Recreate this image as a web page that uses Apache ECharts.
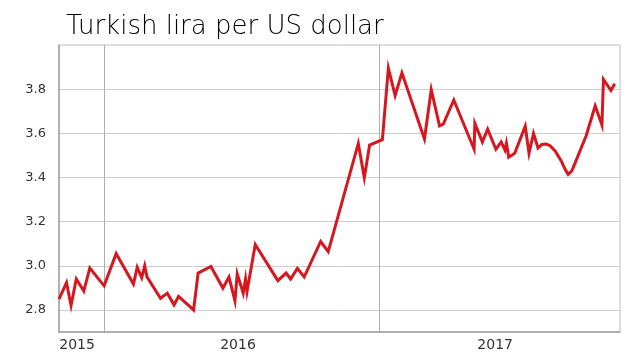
<!DOCTYPE html>
<html>
<head>
<meta charset="utf-8">
<script src="https://cdn.jsdelivr.net/npm/echarts@6/dist/echarts.min.js"></script>
<style>
html,body{margin:0;padding:0;background:#fff;}
#chart{width:634px;height:357px;}
</style>
</head>
<body>
<div id="chart"></div>
<script>
const titleText = 'Turkish lira per US dollar';
const dates = ['2015-11-02','2015-11-12','2015-11-18','2015-11-25','2015-12-05','2015-12-13','2016-01-01','2016-01-17','2016-02-09','2016-02-14','2016-02-20','2016-02-24','2016-02-27','2016-03-16','2016-03-25','2016-04-03','2016-04-09','2016-04-29','2016-05-05','2016-05-22','2016-06-07','2016-06-15','2016-06-23','2016-06-26','2016-07-04','2016-07-07','2016-07-09','2016-07-20','2016-08-19','2016-08-30','2016-09-05','2016-09-14','2016-09-23','2016-10-15','2016-10-25','2016-12-04','2016-12-12','2016-12-19','2017-01-05','2017-01-13','2017-01-22','2017-01-31','2017-03-02','2017-03-11','2017-03-22','2017-03-27','2017-04-10','2017-05-07','2017-05-08','2017-05-18','2017-05-25','2017-06-05','2017-06-12','2017-06-17','2017-06-19','2017-06-22','2017-06-30','2017-07-14','2017-07-19','2017-07-25','2017-07-31','2017-08-05','2017-08-11','2017-08-16','2017-08-23','2017-08-31','2017-09-05','2017-09-09','2017-09-14','2017-10-03','2017-10-15','2017-10-24','2017-10-26','2017-11-05','2017-11-10'];
const lira = [2.849,2.924,2.820,2.940,2.886,2.990,2.909,3.055,2.917,2.993,2.946,3.000,2.950,2.853,2.876,2.823,2.861,2.800,2.967,2.997,2.899,2.949,2.841,2.964,2.876,2.940,2.883,3.096,2.933,2.967,2.940,2.988,2.949,3.110,3.064,3.554,3.399,3.547,3.571,3.895,3.771,3.874,3.574,3.798,3.634,3.642,3.751,3.528,3.645,3.561,3.619,3.528,3.561,3.524,3.556,3.492,3.510,3.632,3.510,3.600,3.533,3.549,3.551,3.544,3.519,3.474,3.437,3.414,3.430,3.589,3.725,3.638,3.844,3.794,3.824];
const yearLabels = ['2015','2016','2017'];
const yearLabelDates = ['2015-11-26','2016-06-27','2017-06-04'];
const yearLines = ['2016-01-01','2017-01-01'];
const xRange = ['2015-11-02','2017-11-17'];
const yTicks = [2.8,3.0,3.2,3.4,3.6,3.8];
const yRange = [2.7,4.0];

function t(s){const p=s.split('-').map(Number);return Date.UTC(p[0],p[1]-1,p[2]);}
const labelTs = yearLabelDates.map(t);

const chart = echarts.init(document.getElementById('chart'), null, {renderer:'canvas'});
chart.setOption({
  animation:false,
  backgroundColor:'#fff',
  title:{
    text:titleText,
    left:61, top:9,
    textStyle:{fontFamily:'DejaVu Sans', fontWeight:200, fontSize:26, color:'#000'}
  },
  grid:{left:59, right:14, top:45, bottom:25, show:true, borderColor:'#bdbdbd', borderWidth:1},
  xAxis:{
    type:'value',
    min:t(xRange[0]), max:t(xRange[1]),
    axisLine:{show:true, lineStyle:{color:'#a0a0a0', width:1.5}},
    axisTick:{show:false, customValues:yearLines.map(t)},
    splitLine:{show:true, lineStyle:{color:'#b0b0b0', width:1}},
    axisLabel:{
      customValues:labelTs,
      formatter:function(v){const i=labelTs.indexOf(v);return i>=0?yearLabels[i]:'';},
      fontFamily:'DejaVu Sans', fontSize:14, color:'#333', margin:6, hideOverlap:false
    }
  },
  yAxis:{
    type:'value',
    min:yRange[0], max:yRange[1],
    axisLine:{show:true, lineStyle:{color:'#a0a0a0', width:1.5}},
    axisTick:{show:false, customValues:yTicks},
    splitLine:{show:true, lineStyle:{color:'#cfcfcf', width:1}},
    axisLabel:{
      customValues:yTicks,
      formatter:function(v){return v.toFixed(1);},
      fontFamily:'DejaVu Sans', fontSize:13, color:'#333', margin:13
    }
  },
  series:[{
    type:'line',
    data:dates.map((d,i)=>[t(d), lira[i]]),
    showSymbol:false, symbol:'none',
    lineStyle:{color:'#d7161e', width:3, join:'miter'},
    itemStyle:{color:'#d7161e'}
  }]
});
</script>
</body>
</html>
